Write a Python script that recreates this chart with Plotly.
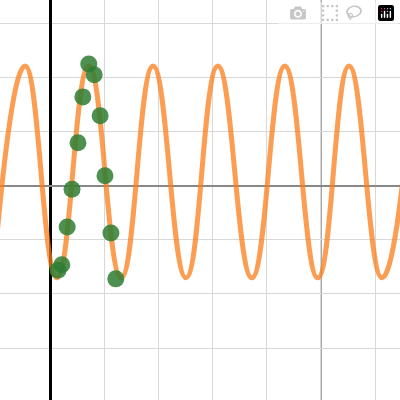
import plotly.graph_objects as go

# curve extrema (x, y)
curve_x = [-1.07, -0.48, 0.11, 0.70, 1.30, 1.89, 2.50, 3.09, 3.72, 4.33, 4.94, 5.52, 6.13, 6.72]
curve_y = [-1.70, 2.22, -1.70, 2.22, -1.70, 2.22, -1.70, 2.22, -1.70, 2.22, -1.70, 2.22, -1.70, 2.22]

dots_x = [0.13, 0.20, 0.30, 0.39, 0.50, 0.59, 0.70, 0.80, 0.91, 1.00, 1.11, 1.20]
dots_y = [-1.56, -1.46, -0.76, -0.06, 0.80, 1.65, 2.26, 2.06, 1.30, 0.19, -0.87, -1.72]

fig = go.Figure()
fig.add_trace(go.Scatter(x=curve_x, y=curve_y, mode="lines",
                         line=dict(color="rgba(250,126,25,0.75)", width=5, shape="spline", smoothing=1.3),
                         hoverinfo="skip"))
fig.add_trace(go.Scatter(x=dots_x, y=dots_y, mode="markers",
                         marker=dict(color="rgba(46,125,50,0.85)", size=17, line=dict(width=0))))
fig.add_shape(type="line", x0=5, x1=5, y0=-10, y1=10, line=dict(color="#888", width=1.5), layer="below")
fig.update_layout(
    width=400, height=400, margin=dict(l=0, r=0, t=0, b=0),
    plot_bgcolor="white", paper_bgcolor="white", showlegend=False,
    xaxis=dict(range=[-0.944, 6.463], dtick=1, showgrid=True, gridcolor="#d8d8d8", gridwidth=1,
               zeroline=True, zerolinecolor="black", zerolinewidth=2.5, showticklabels=False, fixedrange=True),
    yaxis=dict(range=[-3.963, 3.444], dtick=1, showgrid=True, gridcolor="#d8d8d8", gridwidth=1,
               zeroline=True, zerolinecolor="#888", zerolinewidth=1.5, showticklabels=False, fixedrange=True),
)
fig.write_html("out.html")
with open("out.html", encoding="utf-8") as f:
    html = f.read()
html = html.replace("<head>", "<head><style>html,body{margin:0;padding:0;overflow:hidden}</style>", 1)
with open("out.html", "w", encoding="utf-8") as f:
    f.write(html)
